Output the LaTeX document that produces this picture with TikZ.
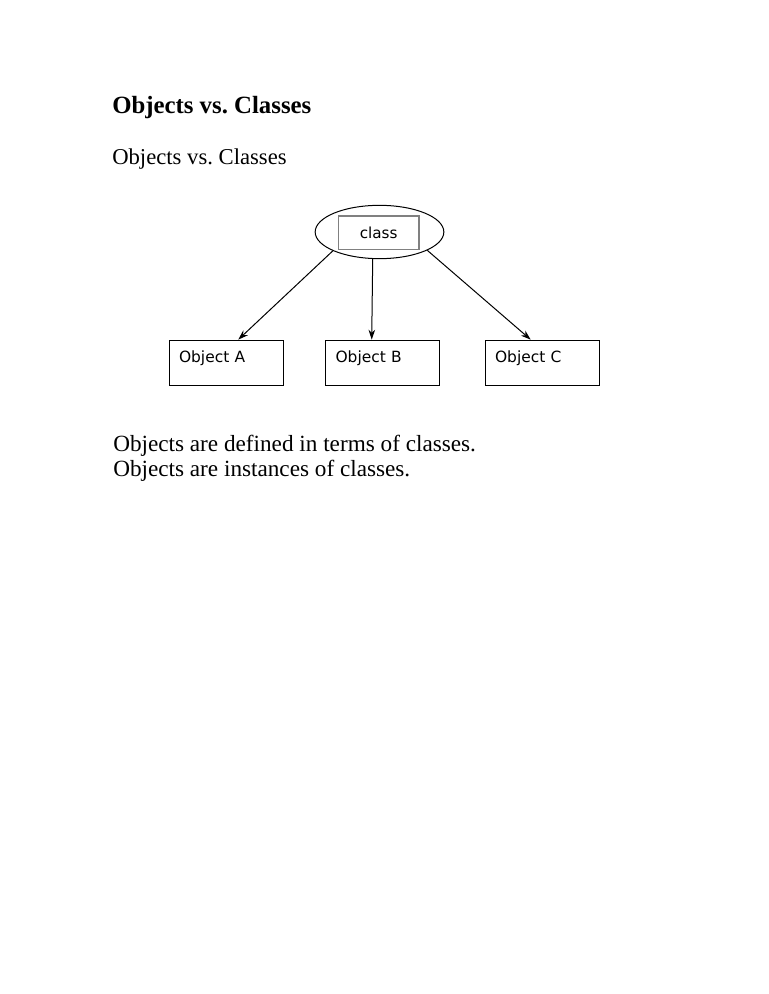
\documentclass[tikz,border=0pt]{standalone}
\usepackage{fontspec}
\setmainfont{Liberation Serif}
\newfontfamily\diagfont{DejaVu Sans}
\usepackage{tikz}
\usetikzlibrary{shapes.geometric,arrows.meta}
\frenchspacing

\begin{document}
\begin{tikzpicture}[x=0.75pt, y=-0.75pt]
\tikzstyle{texto}=[anchor=base west, inner sep=0pt, font=\fontsize{17}{20}\selectfont]
\tikzstyle{corpo}=[anchor=base west, inner sep=0pt, font=\fontsize{17.4}{20}\selectfont]
\tikzstyle{titulo}=[anchor=base west, inner sep=0pt, font=\fontsize{18.6}{22}\selectfont\bfseries]
\tikzstyle{objeto}=[draw, line width=0.75pt, minimum width=85.5pt, minimum height=34pt,
  text width=70.5pt, align=left, inner xsep=7.5pt, inner ysep=0pt,
  text height=9pt, text depth=9pt, font=\diagfont\fontsize{11.6}{13}\selectfont]
\tikzstyle{seta}=[line width=0.75pt, -{Stealth[length=7.5pt, width=5pt]}]
\useasboundingbox (0,0) rectangle (768,994);

% texts
\node[titulo] (title) at (112,114) {Objects vs. Classes};
\node[texto] (sub) at (112,165) {Objects vs. Classes};
\node[corpo] (line1) at (113,451) {Objects are defined in terms of classes.};
\node[corpo] (line2) at (113,476.7) {Objects are instances of classes.};

% class
\node[draw, ellipse, line width=0.75pt, minimum width=96.5pt, minimum height=40pt, inner sep=0pt] (cls) at (379.5,232) {};
\node[draw=gray, line width=1pt, minimum width=60.5pt, minimum height=25pt, inner sep=0pt,
  font=\diagfont\fontsize{11.4}{13}\selectfont] (clsbox) at (378.7,232.8) {class};

% objects
\node[objeto] (objA) at (226,362.8) {Object A};
\node[objeto] (objB) at (382.5,362.8) {Object B};
\node[objeto] (objC) at (542,362.8) {Object C};

% arrows
\draw[seta] (cls.202) -- ([xshift=9.2pt]objA.north);
\draw[seta] ([xshift=-5.1pt]cls.south) -- ([xshift=-8.1pt]objB.north);
\draw[seta] (cls.339) -- ([xshift=-8.5pt]objC.north);
\end{tikzpicture}
\end{document}
